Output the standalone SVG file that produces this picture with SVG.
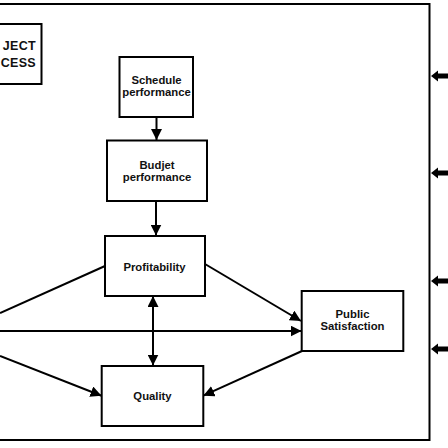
<svg xmlns="http://www.w3.org/2000/svg" width="448" height="448" viewBox="0 0 448 448">
<style>
.box{fill:#fff;stroke:#000;stroke-width:2}
.ln{fill:none;stroke:#000;stroke-width:2}
.t{font-family:"Liberation Sans",Arial,sans-serif;font-weight:bold;font-size:11.3px;fill:#111;text-anchor:middle}
.big{font-family:"Liberation Sans",Arial,sans-serif;font-weight:bold;font-size:12.5px;fill:#111;text-anchor:end;letter-spacing:0.3px}
</style>
<defs>
<marker id="ah" markerUnits="userSpaceOnUse" markerWidth="11" markerHeight="11" viewBox="0 0 10 10" refX="10" refY="5" orient="auto">
<path d="M0,0 L10,5 L0,10 Z" fill="#000"/>
</marker>
<marker id="ahs" markerUnits="userSpaceOnUse" markerWidth="11" markerHeight="11" viewBox="0 0 10 10" refX="10" refY="5" orient="auto-start-reverse">
<path d="M0,0 L10,5 L0,10 Z" fill="#000"/>
</marker>
</defs>
<rect width="448" height="448" fill="#fff"/>
<g id="frame">
<polyline class="ln" points="0,4 429.5,4 429.5,440 0,440"/>
</g>
<g id="project-success">
<rect class="box" x="-40" y="24" width="81.5" height="60"/>
<text class="big" x="36" y="50">JECT</text>
<text class="big" x="36" y="66.5">CESS</text>
</g>
<g id="schedule">
<rect class="box" x="119.5" y="57" width="73.5" height="60"/>
<text class="t" x="156.5" y="83.5">Schedule</text>
<text class="t" x="156.5" y="95.5">performance</text>
</g>
<g id="budjet">
<rect class="box" x="107" y="140.5" width="100" height="60.5"/>
<text class="t" x="157" y="169">Budjet</text>
<text class="t" x="157" y="181">performance</text>
</g>
<g id="profitability">
<rect class="box" x="105" y="236" width="100" height="60"/>
<text class="t" x="154.5" y="270.5">Profitability</text>
</g>
<g id="quality">
<rect class="box" x="101.7" y="366" width="101.6" height="60"/>
<text class="t" x="152.5" y="400">Quality</text>
</g>
<g id="public-satisfaction">
<rect class="box" x="301.7" y="291" width="101.6" height="60"/>
<text class="t" x="352.5" y="318">Public</text>
<text class="t" x="352.5" y="330">Satisfaction</text>
</g>
<g id="connectors">
<line class="ln" x1="156.5" y1="117" x2="156.5" y2="140" marker-end="url(#ah)"/>
<line class="ln" x1="156" y1="201" x2="156" y2="235.5" marker-end="url(#ah)"/>
<line class="ln" x1="153" y1="296" x2="153" y2="365.5" marker-start="url(#ahs)" marker-end="url(#ahs)"/>
<line class="ln" x1="0" y1="331" x2="301.5" y2="331" marker-end="url(#ah)"/>
<line class="ln" x1="205" y1="264" x2="301" y2="321" marker-end="url(#ah)"/>
<line class="ln" x1="302" y1="351" x2="203.3" y2="395.7" marker-end="url(#ah)"/>
<line class="ln" x1="0" y1="313" x2="105" y2="266"/>
<line class="ln" x1="0" y1="356" x2="101.5" y2="395.7" marker-end="url(#ah)"/>
</g>
<g id="side-arrows" fill="#000">
<polygon points="431,76 438,70.5 438,73.5 448,73.5 448,78.5 438,78.5 438,81.5"/>
<polygon points="431,173 438,167.5 438,170.5 448,170.5 448,175.5 438,175.5 438,178.5"/>
<polygon points="431,281 438,275.5 438,278.5 448,278.5 448,283.5 438,283.5 438,286.5"/>
<polygon points="431,349 438,343.5 438,346.5 448,346.5 448,351.5 438,351.5 438,354.5"/>
</g>
</svg>
